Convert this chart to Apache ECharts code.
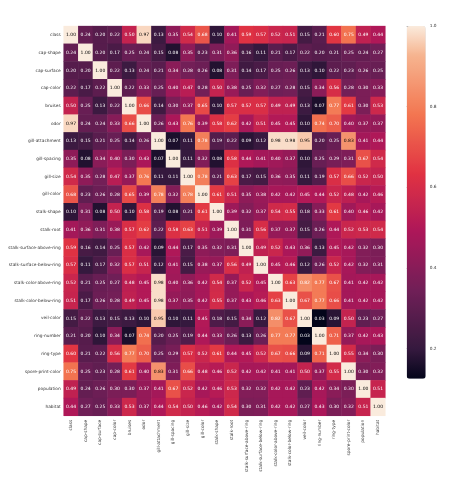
<!DOCTYPE html>
<html><head><meta charset="utf-8">
<script src="https://cdn.jsdelivr.net/npm/echarts@6/dist/echarts.min.js"></script>
<style>html,body{margin:0;padding:0;background:#fff}#c{width:474px;height:482px}</style>
</head><body><div id="c"></div>
<script>
const categories = ['class','cap-shape','cap-surface','cap-color','bruises','odor','gill-attachment','gill-spacing','gill-size','gill-color','stalk-shape','stalk-root','stalk-surface-above-ring','stalk-surface-below-ring','stalk-color-above-ring','stalk-color-below-ring','veil-color','ring-number','ring-type','spore-print-color','population','habitat'];
const matrix = [
[1.00,0.24,0.20,0.22,0.50,0.97,0.13,0.35,0.54,0.68,0.10,0.41,0.59,0.57,0.52,0.51,0.15,0.21,0.60,0.75,0.49,0.44],
[0.24,1.00,0.20,0.17,0.25,0.24,0.15,0.08,0.35,0.23,0.31,0.36,0.16,0.11,0.21,0.17,0.22,0.20,0.21,0.25,0.24,0.27],
[0.20,0.20,1.00,0.22,0.13,0.24,0.21,0.34,0.28,0.26,0.08,0.31,0.14,0.17,0.25,0.26,0.13,0.10,0.22,0.23,0.26,0.25],
[0.22,0.17,0.22,1.00,0.22,0.33,0.25,0.40,0.47,0.28,0.50,0.38,0.25,0.32,0.27,0.28,0.15,0.34,0.56,0.28,0.30,0.33],
[0.50,0.25,0.13,0.22,1.00,0.66,0.14,0.30,0.37,0.65,0.10,0.57,0.57,0.57,0.49,0.49,0.13,0.07,0.77,0.61,0.30,0.53],
[0.97,0.24,0.24,0.33,0.66,1.00,0.26,0.43,0.76,0.39,0.58,0.62,0.42,0.51,0.45,0.45,0.10,0.74,0.70,0.40,0.37,0.37],
[0.13,0.15,0.21,0.25,0.14,0.26,1.00,0.07,0.11,0.78,0.19,0.22,0.09,0.12,0.98,0.98,0.95,0.20,0.25,0.83,0.41,0.44],
[0.35,0.08,0.34,0.40,0.30,0.43,0.07,1.00,0.11,0.32,0.08,0.58,0.44,0.41,0.40,0.37,0.10,0.25,0.29,0.31,0.67,0.54],
[0.54,0.35,0.28,0.47,0.37,0.76,0.11,0.11,1.00,0.78,0.21,0.63,0.17,0.15,0.36,0.35,0.11,0.19,0.57,0.66,0.52,0.50],
[0.68,0.23,0.26,0.28,0.65,0.39,0.78,0.32,0.78,1.00,0.61,0.51,0.35,0.38,0.42,0.42,0.45,0.44,0.52,0.48,0.42,0.46],
[0.10,0.31,0.08,0.50,0.10,0.58,0.19,0.08,0.21,0.61,1.00,0.39,0.32,0.37,0.54,0.55,0.18,0.33,0.61,0.40,0.46,0.42],
[0.41,0.36,0.31,0.38,0.57,0.62,0.22,0.58,0.63,0.51,0.39,1.00,0.31,0.56,0.37,0.37,0.15,0.26,0.44,0.52,0.53,0.54],
[0.59,0.16,0.14,0.25,0.57,0.42,0.09,0.44,0.17,0.35,0.32,0.31,1.00,0.49,0.52,0.43,0.36,0.13,0.45,0.42,0.32,0.30],
[0.57,0.11,0.17,0.32,0.57,0.51,0.12,0.41,0.15,0.38,0.37,0.56,0.49,1.00,0.45,0.46,0.12,0.26,0.52,0.42,0.32,0.31],
[0.52,0.21,0.25,0.27,0.48,0.45,0.98,0.40,0.36,0.42,0.54,0.37,0.52,0.45,1.00,0.63,0.82,0.77,0.67,0.41,0.42,0.42],
[0.51,0.17,0.26,0.28,0.49,0.45,0.98,0.37,0.35,0.42,0.55,0.37,0.43,0.46,0.63,1.00,0.67,0.77,0.66,0.41,0.42,0.42],
[0.15,0.22,0.13,0.15,0.13,0.10,0.95,0.10,0.11,0.45,0.18,0.15,0.34,0.12,0.82,0.67,1.00,0.03,0.09,0.50,0.23,0.27],
[0.21,0.20,0.10,0.34,0.07,0.74,0.20,0.25,0.19,0.44,0.33,0.26,0.13,0.26,0.77,0.77,0.03,1.00,0.71,0.37,0.42,0.43],
[0.60,0.21,0.22,0.56,0.77,0.70,0.25,0.29,0.57,0.52,0.61,0.44,0.45,0.52,0.67,0.66,0.09,0.71,1.00,0.55,0.34,0.30],
[0.75,0.25,0.23,0.28,0.61,0.40,0.83,0.31,0.66,0.48,0.46,0.52,0.42,0.42,0.41,0.41,0.50,0.37,0.55,1.00,0.30,0.32],
[0.49,0.24,0.26,0.30,0.30,0.37,0.41,0.67,0.52,0.42,0.46,0.53,0.32,0.32,0.42,0.42,0.23,0.42,0.34,0.30,1.00,0.51],
[0.44,0.27,0.25,0.33,0.53,0.37,0.44,0.54,0.50,0.46,0.42,0.54,0.30,0.31,0.42,0.42,0.27,0.43,0.30,0.32,0.51,1.00]
];
const colorbarTicks = [0.2, 0.4, 0.6, 0.8, 1.0];
const vmin = 0.03, vmax = 1.0;

// rocket colormap stops
const rocketStops = [[0,'#03051a'],[1/12,'#35193e'],[3/12,'#701f57'],[5/12,'#ad1759'],[7/12,'#e13342'],[9/12,'#f37651'],[11/12,'#f6b48f'],[1,'#faebdd']];
function hex2rgb(h){return [parseInt(h.substr(1,2),16),parseInt(h.substr(3,2),16),parseInt(h.substr(5,2),16)];}
function rocket(t){
  t=Math.max(0,Math.min(1,t));
  for(let i=1;i<rocketStops.length;i++){
    if(t<=rocketStops[i][0]){
      const a=rocketStops[i-1],b=rocketStops[i];
      const f=(t-a[0])/(b[0]-a[0]);
      const ca=hex2rgb(a[1]),cb=hex2rgb(b[1]);
      return ca.map((v,k)=>Math.round(v+(cb[k]-v)*f));
    }
  }
  return hex2rgb('#faebdd');
}
const palette=[];
for(let i=0;i<=48;i++){const c=rocket(i/48);palette.push('rgb('+c.join(',')+')');}
function lum(c){const s=c.map(v=>{v/=255;return v<=0.03928?v/12.92:Math.pow((v+0.055)/1.055,2.4);});return 0.2126*s[0]+0.7152*s[1]+0.0722*s[2];}

const data=[];
matrix.forEach((row,r)=>row.forEach((v,c)=>{
  const col=rocket((v-vmin)/(vmax-vmin));
  data.push({value:[c,r,v],label:{color: lum(col)>0.408?'#000':'#fff'}});
}));

const FONT='DejaVu Sans';
const chart=echarts.init(document.getElementById('c'),null,{renderer:'canvas'});
chart.setOption({
  animation:false,
  backgroundColor:'#fff',
  grid:[
    {left:63.7,top:26.1,width:321.6,height:389.7,containLabel:false},
    {left:406.7,top:26,width:19,height:403.3,containLabel:false}
  ],
  xAxis:[
    {type:'category',data:categories,gridIndex:0,position:'bottom',
     axisLine:{show:false},axisTick:{show:false},splitLine:{show:false},
     axisLabel:{rotate:90,interval:0,fontSize:4.3,color:'#333',fontFamily:FONT,margin:4}},
    {type:'value',gridIndex:1,show:false,min:0,max:1}
  ],
  yAxis:[
    {type:'category',data:categories,gridIndex:0,inverse:true,
     axisLine:{show:false},axisTick:{show:false},splitLine:{show:false},
     axisLabel:{interval:0,fontSize:4.3,color:'#333',fontFamily:FONT,margin:3}},
    {type:'value',gridIndex:1,min:0,max:1,position:'right',
     axisLine:{show:false},splitLine:{show:false},
     axisTick:{show:true,length:2,lineStyle:{color:'#444',width:0.5},customValues:colorbarTicks},
     axisLabel:{fontSize:4.3,color:'#333',fontFamily:FONT,margin:4,customValues:colorbarTicks,formatter:v=>v.toFixed(1)}}
  ],
  visualMap:{
    type:'continuous',min:vmin,max:vmax,seriesIndex:0,
    left:406.7,top:26,itemWidth:19,itemHeight:352.7,padding:0,
    calculable:false,text:null,showLabel:false,
    inRange:{color:palette}
  },
  series:[
    {type:'heatmap',xAxisIndex:0,yAxisIndex:0,data:data,
     label:{show:true,fontSize:4.5,fontFamily:FONT,formatter:p=>p.value[2].toFixed(2)},
     itemStyle:{borderWidth:0},emphasis:{disabled:true}},
    {type:'scatter',xAxisIndex:1,yAxisIndex:1,data:[],silent:true}
  ]
});
</script></body></html>
